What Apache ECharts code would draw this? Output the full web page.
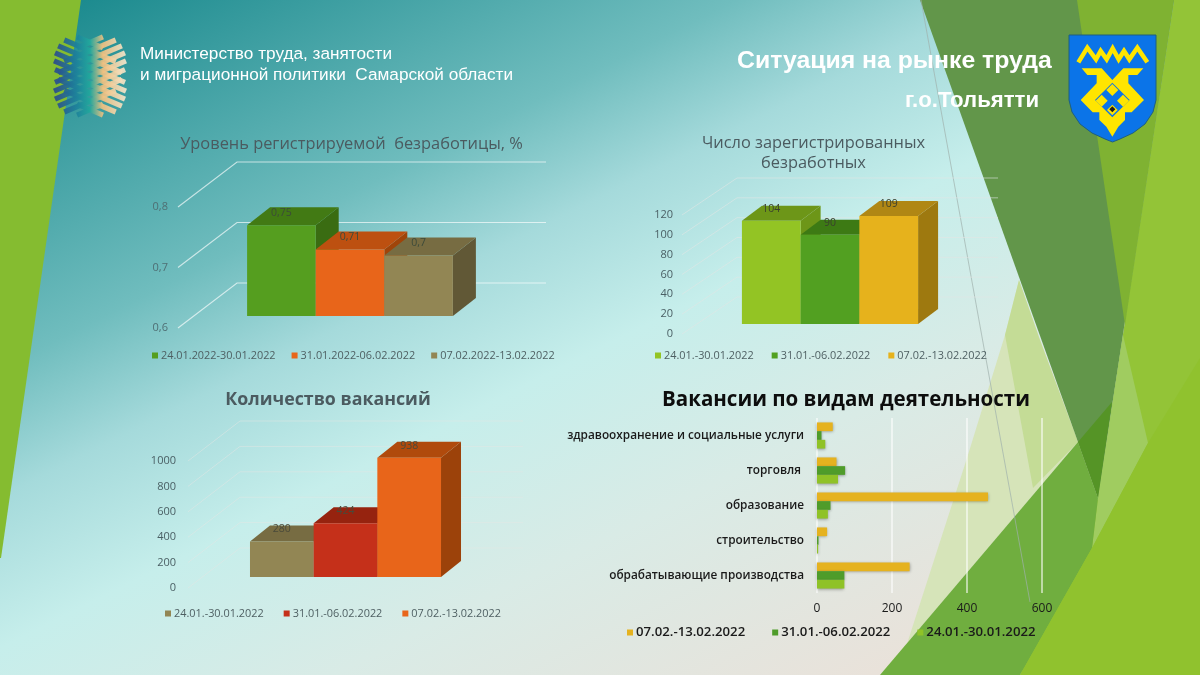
<!DOCTYPE html>
<html>
<head>
<meta charset="utf-8">
<style>
html, body { margin: 0; padding: 0; width: 1200px; height: 675px; overflow: hidden; }
.layer { position: absolute; left: 0; top: 0; width: 1200px; height: 675px; }
</style>
<script src="https://cdn.jsdelivr.net/npm/echarts@6/dist/echarts.min.js"></script>
</head>
<body>
<div id="bg" class="layer"></div>
<div id="rate" class="layer"></div>
<div id="registered" class="layer"></div>
<div id="vacancies" class="layer"></div>
<div id="sectors" class="layer"></div>
<script>
// data
var rateNames = ['24.01.2022-30.01.2022', '31.01.2022-06.02.2022', '07.02.2022-13.02.2022'];
var rateValues = [0.75, 0.71, 0.7];
var rateTicks = [0.6, 0.7, 0.8];

var registeredNames = ['24.01.-30.01.2022', '31.01.-06.02.2022', '07.02.-13.02.2022'];
var registeredValues = [104, 90, 109];
var registeredTicks = [0, 20, 40, 60, 80, 100, 120];

var vacancyNames = ['24.01.-30.01.2022', '31.01.-06.02.2022', '07.02.-13.02.2022'];
var vacancyValues = [280, 424, 938];
var vacancyTicks = [0, 200, 400, 600, 800, 1000];

var sectorNames = ['обрабатывающие производства', 'строительство', 'образование', 'торговля ', 'здравоохранение и социальные услуги'];
var sector2401 = [73, 3, 29, 56, 22];
var sector3101 = [73, 4, 36, 75, 12];
var sector0702 = [247, 27, 456, 52, 42];

var FONT = '"Open Sans", sans-serif';

// 3d look: each column is a front face, a top face and a side face
function bar3d(name, index, value, face, top, side, box, fmt, labelColor) {
    return {
        type: 'custom',
        name: name,
        itemStyle: { color: face },
        data: [[0, value]],
        encode: { x: 0, y: 1 },
        clip: false,
        z: 5 + index,
        renderItem: function (params, api) {
            var p = api.coord([0, api.value(1)]);
            var base = api.coord([0, box.min]);
            var w = api.size([1, 0])[0] * box.ratio;
            var x0 = p[0] + box.shift + (index - 1.5) * w;
            var x1 = x0 + w;
            var y0 = p[1] - box.lift;
            var y1 = base[1] - box.lift;
            var dx = box.dx, dy = box.dy;
            return {
                type: 'group',
                children: [
                    { type: 'polygon', shape: { points: [[x1, y0], [x1 + dx, y0 - dy], [x1 + dx, y1 - dy], [x1, y1]] }, style: { fill: side } },
                    { type: 'polygon', shape: { points: [[x0, y0], [x0 + dx, y0 - dy], [x1 + dx, y0 - dy], [x1, y0]] }, style: { fill: top } },
                    { type: 'rect', shape: { x: x0, y: y0, width: w, height: y1 - y0 }, style: { fill: face } },
                    { type: 'text', x: x0 + w / 2, y: y0 - 12, style: { text: fmt(api.value(1)), fill: labelColor, font: '10.5px ' + FONT, align: 'center', verticalAlign: 'middle' } }
                ]
            };
        }
    };
}

// the back wall and side wall lines of the 3d box
function walls(ticks, box, color, width) {
    return {
        type: 'custom',
        name: 'walls',
        silent: true,
        z: 1,
        clip: false,
        data: ticks.map(function (t) { return [0, t]; }),
        encode: { x: 0, y: 1 },
        renderItem: function (params, api) {
            var y = api.coord([0, api.value(1)])[1];
            var left = params.coordSys.x;
            var right = left + params.coordSys.width;
            return {
                type: 'polyline',
                shape: { points: [[left, y], [left + box.wallDx, y - box.wallDy], [right + box.wallDx, y - box.wallDy]] },
                style: { stroke: color, lineWidth: width, fill: null }
            };
        }
    };
}

function chart3d(cfg) {
    var chart = echarts.init(document.getElementById(cfg.id));
    var series = [walls(cfg.ticks, cfg.box, cfg.wallColor, cfg.wallWidth)];
    for (var i = 0; i < 3; i++) {
        series.push(bar3d(cfg.names[i], i, cfg.values[i], cfg.face[i], cfg.top[i], cfg.side[i], cfg.box, cfg.fmt, cfg.labelColor));
    }
    chart.setOption({
        animation: false,
        title: {
            text: cfg.title, left: cfg.titleX, top: cfg.titleY, textAlign: 'center',
            textStyle: { fontFamily: FONT, fontSize: cfg.titleSize, fontWeight: cfg.titleWeight, color: '#4b5b60', lineHeight: 20 }
        },
        grid: cfg.grid,
        xAxis: { type: 'category', data: [''], show: false },
        yAxis: {
            type: 'value', min: cfg.box.min, max: cfg.max, interval: cfg.interval,
            axisLine: { show: false }, axisTick: { show: false }, splitLine: { show: false },
            axisLabel: { margin: cfg.margin, color: cfg.tickColor, fontFamily: FONT, fontSize: 11, formatter: cfg.fmt }
        },
        legend: {
            data: cfg.names, left: cfg.legendX, top: cfg.legendY, padding: 0, itemWidth: 6, itemHeight: 6, itemGap: cfg.legendGap,
            icon: 'rect', selectedMode: false,
            textStyle: { fontFamily: FONT, fontSize: 10.9, color: '#4e5f62', padding: [0, 0, 0, -2] }
        },
        series: series
    });
}

function plain(v) { return String(v); }
function comma(v) { return String(v).replace('.', ','); }

// background
function poly(points, fill, opacity) {
    return { type: 'polygon', shape: { points: points }, style: { fill: fill, opacity: opacity === undefined ? 1 : opacity } };
}
function arm(points) {
    return points.map(function (p) { return [1060 + p[0] / 3, 25 + p[1] / 3]; });
}
function diamond(cx, cy, r) {
    return arm([[cx, cy - r], [cx + r, cy], [cx, cy + r], [cx - r, cy]]);
}
function label(text, x, y, size, weight, align) {
    return {
        type: 'text', x: x, y: y, z: 20,
        style: { text: text, fill: '#ffffff', font: weight + ' ' + size + 'px "Liberation Sans", sans-serif', align: align || 'left', verticalAlign: 'middle' }
    };
}

var shapes = [
    { type: 'rect', shape: { x: 0, y: 0, width: 1200, height: 675 },
      style: { fill: new echarts.graphic.LinearGradient(70, 0, 500, 860, [
          { offset: 0, color: '#1b8a8e' }, { offset: 0.31, color: '#70bdbe' },
          { offset: 0.43, color: '#a5dadb' }, { offset: 0.57, color: '#c6eeeb' },
          { offset: 0.75, color: '#d9ebe6' }, { offset: 1, color: '#e9e2da' }], true) } },
    poly([[0, 0], [81, 0], [1, 558], [0, 558]], '#85bc30'),
    // pale wedges
    poly([[1019, 280], [1040, 340], [1078, 442], [880, 675], [905, 650], [967, 458], [1005, 335]], '#d6e4b9'),
    poly([[1019, 280], [1040, 340], [1078, 442], [1033, 488], [1005, 335]], '#c4dc96'),
    // dark and olive triangles
    poly([[1174, 0], [1200, 0], [1200, 675], [1020, 675], [1098, 498]], '#93c437'),
    poly([[920, 0], [1174, 0], [1098, 498]], '#62964a'),
    poly([[1077, 0], [1174, 0], [1125, 325]], '#7fb232'),
    poly([[1123, 335], [1148, 443], [1092, 548], [1098, 498]], '#a0cc60'),
    poly([[880, 675], [1078, 442], [1098, 498], [1092, 548], [1020, 675]], '#70ae3f'),
    poly([[1078, 442], [1112, 402], [1098, 498]], '#559426'),
    poly([[1200, 358], [1200, 675], [1020, 675], [1092, 548], [1148, 443]], '#90c22e'),
    { type: 'line', shape: { x1: 921, y1: 0, x2: 1030, y2: 602 }, style: { stroke: '#9fb0ad', lineWidth: 1, opacity: 0.7 } },
    // coat of arms
    { type: 'polygon', shape: { points: [[1069, 35], [1156, 35], [1156, 100], [1153, 112], [1145, 124], [1133, 133], [1120, 139], [1112.5, 142], [1105, 139], [1092, 133], [1080, 124], [1072, 112], [1069, 100]] },
      style: { fill: '#0b74e8', stroke: '#1f5f7f', lineWidth: 1 } },
    { type: 'polyline', shape: { points: arm([[55, 112], [82, 68], [108, 103], [122, 78], [140, 103], [158, 70], [176, 103], [192, 78], [208, 103], [232, 68], [262, 112]]) },
      style: { stroke: '#ffe500', lineWidth: 4.5, fill: null } },
    poly(arm([[65, 130], [125, 130], [157, 165], [190, 130], [250, 130], [232, 150], [205, 150], [205, 175], [252, 225], [215, 262], [195, 262], [195, 285], [175, 305], [157, 335], [139, 305], [118, 285], [118, 262], [98, 262], [62, 225], [110, 175], [110, 150], [82, 150]]), '#ffe500'),
    poly(diamond(157, 225, 52), '#0b74e8'),
    poly(diamond(157, 195, 18), '#ffe500'),
    poly(diamond(125, 227, 18), '#ffe500'),
    poly(diamond(189, 227, 18), '#ffe500'),
    poly(diamond(157, 255, 16), '#ffe500'),
    poly(diamond(157, 253, 9), '#1a1a1a'),
    // header text
    label('Министерство труда, занятости', 140, 54, 17.2, 'normal'),
    label('и миграционной политики  Самарской области', 140, 75, 17.2, 'normal'),
    label('Ситуация на рынке труда', 737, 61, 24.8, 'bold'),
    label('г.о.Тольятти', 905, 101, 22.2, 'bold')
];

// ministry logo: two families of short slanted strips inside a circle
var logoFill = new echarts.graphic.LinearGradient(54, 0, 126, 0, [
    { offset: 0, color: '#2b4a8c' }, { offset: 0.3, color: '#1d7f9a' }, { offset: 0.5, color: '#22a79c' },
    { offset: 0.68, color: '#efc080' }, { offset: 1, color: '#f5e6cc' }], true);
[-1, 1].forEach(function (dir) {
    for (var r = -4; r <= 4; r++) {
        var dy = r * 8.4;
        var half = Math.sqrt(36 * 36 - dy * dy);
        shapes.push({
            type: 'line',
            shape: { x1: 90 - half, y1: 76 + dy - dir * half * 0.42, x2: 90 + half, y2: 76 + dy + dir * half * 0.42 },
            style: { stroke: logoFill, lineWidth: 5.2, opacity: 0.92 }
        });
    }
});

echarts.init(document.getElementById('bg')).setOption({ animation: false, graphic: { elements: shapes } });

chart3d({
    id: 'rate', names: rateNames, values: rateValues, ticks: rateTicks,
    title: 'Уровень регистрируемой  безработицы, %', titleX: 346.5, titleY: 129, titleSize: 16.4, titleWeight: 'normal',
    grid: { left: 178, top: 207, width: 309, height: 121 },
    box: { min: 0.6, ratio: 0.222, shift: 17.5, lift: 12, dx: 23, dy: 18, wallDx: 59, wallDy: 45 },
    max: 0.8, interval: 0.1, margin: 10, fmt: comma, tickColor: '#4f6f74', labelColor: '#3c4a3a',
    wallColor: 'rgba(255,255,255,0.65)', wallWidth: 1.2,
    face: ['#559e1f', '#e8651a', '#928654'], top: ['#427a14', '#bd5010', '#776c42'], side: ['#3a6c12', '#a04409', '#615836'],
    legendX: 152, legendY: 350, legendGap: 16
});

chart3d({
    id: 'registered', names: registeredNames, values: registeredValues, ticks: registeredTicks,
    title: 'Число зарегистрированных\nбезработных', titleX: 808.5, titleY: 128, titleSize: 16.4, titleWeight: 'normal',
    grid: { left: 682, top: 215, width: 261, height: 119 },
    box: { min: 0, ratio: 0.225, shift: 17.5, lift: 10, dx: 20, dy: 15, wallDx: 55, wallDy: 37 },
    max: 120, interval: 20, margin: 9, fmt: plain, tickColor: '#4a5f64', labelColor: '#3a3f2e',
    wallColor: 'rgba(225,230,228,0.6)', wallWidth: 1,
    face: ['#93c424', '#52a021', '#e6b21c'], top: ['#6d9618', '#3d7a14', '#b08714'], side: ['#6d9618', '#3d7a14', '#9e790f'],
    legendX: 655, legendY: 350, legendGap: 18
});

chart3d({
    id: 'vacancies', names: vacancyNames, values: vacancyValues, ticks: vacancyTicks,
    title: 'Количество вакансий', titleX: 323, titleY: 385, titleSize: 17.8, titleWeight: 'bold',
    grid: { left: 188, top: 461, width: 283, height: 127 },
    box: { min: 0, ratio: 0.225, shift: 16, lift: 11, dx: 20, dy: 16, wallDx: 52, wallDy: 40 },
    max: 1000, interval: 200, margin: 12, fmt: plain, tickColor: '#4a5f64', labelColor: '#4a4a3a',
    wallColor: 'rgba(230,232,230,0.5)', wallWidth: 1,
    face: ['#928654', '#c5301a', '#e8651a'], top: ['#776c42', '#96230f', '#b04a0c'], side: ['#615836', '#80200e', '#9c420a'],
    legendX: 165, legendY: 608, legendGap: 20
});

var sectorChart = echarts.init(document.getElementById('sectors'));
var sectorShadow = { shadowBlur: 3, shadowOffsetY: 1, shadowColor: 'rgba(0,0,0,0.35)' };
function sectorSeries(name, data, color) {
    return { type: 'bar', name: name, data: data, barWidth: 8.7, barGap: 0, itemStyle: Object.assign({ color: color }, sectorShadow) };
}
sectorChart.setOption({
    animation: false,
    title: {
        text: 'Вакансии по видам деятельности', left: 841, top: 385, textAlign: 'center',
        textStyle: { fontFamily: FONT, fontSize: 20.5, fontWeight: 'bold', color: '#0d0d0d' }
    },
    grid: { left: 817, top: 418, width: 225, height: 175 },
    xAxis: {
        type: 'value', min: 0, max: 600, interval: 200,
        axisLine: { show: false }, axisTick: { show: false },
        splitLine: { lineStyle: { color: 'rgba(255,255,255,0.55)', width: 2 } },
        axisLabel: { margin: 10, color: '#1a1a1a', fontFamily: FONT, fontSize: 12 }
    },
    yAxis: {
        type: 'category', data: sectorNames,
        axisLine: { show: false }, axisTick: { show: false },
        axisLabel: { margin: 13, color: '#1a1a1a', fontFamily: FONT, fontSize: 11.8, fontWeight: 600 }
    },
    legend: {
        data: ['07.02.-13.02.2022', '31.01.-06.02.2022', '24.01.-30.01.2022'],
        left: 627, top: 626, padding: 0, itemWidth: 6, itemHeight: 6, itemGap: 27, icon: 'rect', selectedMode: false,
        textStyle: { fontFamily: FONT, fontSize: 13.2, fontWeight: 600, color: '#1a1a1a', padding: [0, 0, 0, -2] }
    },
    series: [
        sectorSeries('07.02.-13.02.2022', sector0702, '#e5b21f'),
        sectorSeries('31.01.-06.02.2022', sector3101, '#4f9c2a'),
        sectorSeries('24.01.-30.01.2022', sector2401, '#8fc227')
    ]
});
</script>
</body>
</html>
